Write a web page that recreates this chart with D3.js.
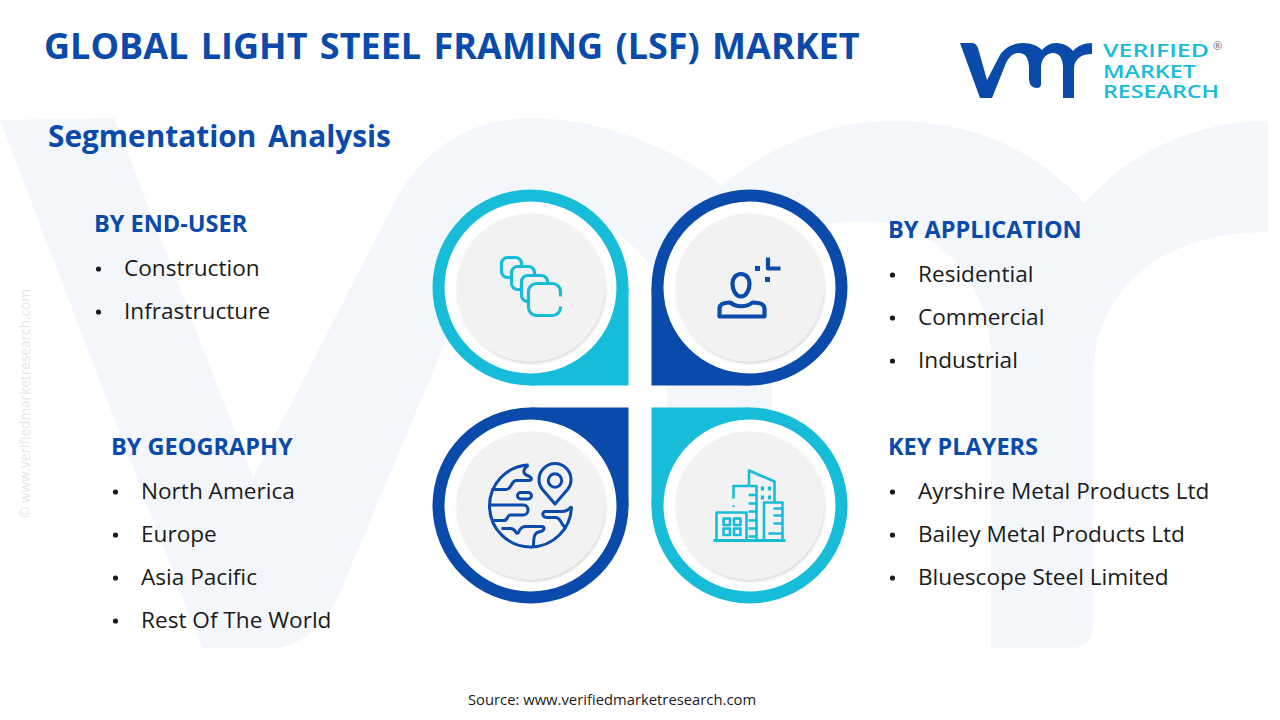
<!DOCTYPE html>
<html lang="en">
<head>
<meta charset="utf-8">
<script src="https://d3js.org/d3.v7.min.js"></script>
<title>Global Light Steel Framing (LSF) Market</title>
<style>
  html, body { margin: 0; padding: 0; background: #fff; }
  svg { display: block; }
  text { font-family: "Open Sans", "Noto Sans", sans-serif; }
</style>
</head>
<body>
<script>
var titleText = "GLOBAL LIGHT STEEL FRAMING (LSF) MARKET";
var subtitleText = "Segmentation Analysis";
var sourceText = "Source: www.verifiedmarketresearch.com";
var sideText = "© www.verifiedmarketresearch.com";
var logoWords = ["VERIFIED", "MARKET", "RESEARCH"];
var logoWidths = [106, 93, 116];

var endUser = ["Construction", "Infrastructure"];
var application = ["Residential", "Commercial", "Industrial"];
var geography = ["North America", "Europe", "Asia Pacific", "Rest Of The World"];
var keyPlayers = ["Ayrshire Metal Products Ltd", "Bailey Metal Products Ltd", "Bluescope Steel Limited"];

var navy = "#0a4aaa", cyan = "#17bcd8", ink = "#1a1a1a", paper = "#f2f2f3";

var svg = d3.select("body").append("svg").attr("width", 1280).attr("height", 720);
svg.append("rect").attr("width", 1280).attr("height", 720).attr("fill", "#fff");

// big faint vmr watermark behind everything
svg.append("path").attr("fill", "#f3f6fb").attr("d",
  "M0,120 L114,118 L253,478 L392,207 C420,150 470,118 530,118 C600,118 680,150 722,186 " +
  "C770,145 830,121 893,121 C980,121 1040,155 1085,203 C1130,150 1200,121 1268,121 L1268,232 " +
  "C1170,232 1100,280 1093,368 L1093,625 Q1093,648 1070,648 L991,648 L991,350 " +
  "C985,270 930,221 860,221 C820,221 790,235 772,260 L772,490 Q772,525 720,525 Q667,525 667,490 L667,300 " +
  "C650,250 610,218 560,218 C520,220 480,265 445,343 L341,590 Q320,640 278,648 L202,648 Z");

// header
svg.append("text").attr("x", 44).attr("y", 59).attr("font-size", 36).attr("font-weight", 700)
  .attr("fill", navy).attr("word-spacing", 3).text(titleText);
svg.append("text").attr("x", 48).attr("y", 147).attr("font-size", 29.8).attr("font-weight", 700)
  .attr("fill", navy).attr("word-spacing", 4).text(subtitleText);

// logo mark
svg.append("path").attr("fill", navy).attr("d",
  "M960,43 L972,43 Q976,43 978,48 L987,80 L1000,55 C1005,47 1014,43 1023,43 C1032,43 1038,46 1042,50 " +
  "C1046,46 1050,43 1056,43 C1064,43 1070,47 1073,51 C1077,46 1084,43 1092,43 L1092,54 " +
  "C1082,54 1075,58 1074,68 L1074,98 L1063,98 L1063,68 C1063,58 1059,53 1053,53 C1047,53 1042,58 1041,66 " +
  "L1041,84 Q1041,88 1037,88 Q1030,88 1029,80 L1029,68 C1029,58 1025,53 1019,53 C1013,53 1009,57 1006,63 " +
  "L992,98 L980,98 Z");

var logoText = svg.append("g").attr("fill", cyan).attr("font-weight", 600).attr("font-size", 18);
logoWords.forEach(function (w, i) {
  logoText.append("text").attr("x", 1103).attr("y", [57, 78, 98][i])
    .attr("textLength", logoWidths[i]).attr("lengthAdjust", "spacingAndGlyphs").text(w);
});
svg.append("text").attr("x", 1213).attr("y", 50).attr("font-size", 11).attr("fill", "#666").text("®");

// side url
svg.append("text").attr("transform", "translate(30,518) rotate(-90)").attr("font-size", 13.6)
  .attr("fill", "#e6e6e6").text(sideText);

// four teardrops, corner points to the middle of the picture
var drops = [
  { cx: 530.5, cy: 287.5, color: cyan, corner: [1, 1] },
  { cx: 749.5, cy: 287.5, color: navy, corner: [-1, 1] },
  { cx: 530.5, cy: 505.5, color: navy, corner: [1, -1] },
  { cx: 749.5, cy: 505.5, color: cyan, corner: [-1, -1] }
];
var defs = svg.append("defs");
var f = defs.append("filter").attr("id", "soft").attr("x", "-20%").attr("y", "-20%").attr("width", "140%").attr("height", "140%");
f.append("feDropShadow").attr("dx", 1).attr("dy", 2).attr("stdDeviation", 1.5).attr("flood-color", "#000").attr("flood-opacity", 0.16);

var dropG = svg.selectAll("g.drop").data(drops).enter().append("g").attr("class", "drop")
  .attr("transform", function (d) { return "translate(" + d.cx + "," + d.cy + ")"; });
dropG.append("circle").attr("r", 98).attr("fill", function (d) { return d.color; });
dropG.append("rect")
  .attr("x", function (d) { return d.corner[0] > 0 ? 0 : -98; })
  .attr("y", function (d) { return d.corner[1] > 0 ? 0 : -98; })
  .attr("width", 98).attr("height", 98)
  .attr("fill", function (d) { return d.color; });
dropG.append("circle").attr("r", 86).attr("fill", "#fff");
dropG.append("circle").attr("r", 74).attr("fill", paper).attr("filter", "url(#soft)");

// icons, drawn relative to each circle centre
function iconGroup(i, color) {
  return svg.append("g")
    .attr("transform", "translate(" + drops[i].cx + "," + drops[i].cy + ")")
    .attr("fill", "none").attr("stroke", color).attr("stroke-width", 3).attr("stroke-linejoin", "round");
}

// stacked squares
var ic0 = iconGroup(0, cyan);
ic0.attr("stroke-width", 3.2);
[[-29, -30, 20], [-19, -21, 23], [-9, -12, 26]].forEach(function (p) {
  ic0.append("rect").attr("x", p[0]).attr("y", p[1]).attr("width", p[2]).attr("height", p[2])
    .attr("rx", 6).attr("fill", paper);
});
ic0.append("rect").attr("x", -2).attr("y", -4).attr("width", 32).attr("height", 32).attr("rx", 8).attr("fill", paper);
ic0.append("rect").attr("x", 26).attr("y", 9).attr("width", 8).attr("height", 10).attr("fill", paper).attr("stroke", "none");

// person with marks
var ic1 = iconGroup(1, navy);
ic1.attr("stroke-width", 4.2);
ic1.append("path").attr("d", "M-8.5,-13.5 C-3,-13.5 0,-9 0,-4 C0,2 -3,9 -8.5,9 C-14,9 -17,2 -17,-4 C-17,-9 -14,-13.5 -8.5,-13.5 Z");
ic1.append("path").attr("d", "M-30,29 V21 C-30,16 -24,15 -19,15 C-14,20 -3,20 3,15 C9,15 15,16 15,21 V29 Z");
ic1.append("path").attr("d", "M18.5,-30 V-19 H31");
ic1.selectAll(null).data([[8, -19], [18, -8]]).enter().append("rect")
  .attr("x", function (d) { return d[0] - 2.5; }).attr("y", function (d) { return d[1] - 2.5; })
  .attr("width", 5).attr("height", 5).attr("fill", navy).attr("stroke", "none");

// globe with pin
var ic2 = iconGroup(2, navy);
ic2.attr("stroke-width", 3);
ic2.append("path").attr("d", "M-2,-40.5 A41,41 0 1 0 41,1");
ic2.append("path").attr("d", "M-2,-40.5 C-8,-36 -8,-32 -3,-30 C2,-28 2,-25 -2,-25 H-14 C-20,-25 -18,-16 -25,-16 H-39");
ic2.append("rect").attr("x", -13).attr("y", -13).attr("width", 14).attr("height", 6.5).attr("rx", 3.2);
ic2.append("path").attr("d", "M-40.5,-0.5 H-7 C-1,-0.5 -1,9.5 -7,9.5 H-20 C-24,9.5 -22,15 -27,15 H-37");
ic2.append("path").attr("d", "M-29,23 H-20 C-14,23 -15,30 -12,27 C-10,22 -8,21 -4,21 H11 C15,21 14,25 10,26 C4,27 3,30 3,41");
ic2.append("path").attr("d", "M41,1 C38,4 36,6 31,6 H14 C11,8 12,12 17,12 H25 C31,12 30,20 36,23");
ic2.append("path").attr("d", "M24.5,-1.5 L12,-16 A16,16 0 1 1 37,-16 Z");
ic2.append("circle").attr("cx", 24.5).attr("cy", -25).attr("r", 6.7);

// city block
var ic3 = iconGroup(3, cyan);
ic3.attr("stroke-width", 2.6);
ic3.append("path").attr("d", "M-36,35 H36").attr("stroke-width", 3.2);
ic3.append("path").attr("d", "M-33,35 V7 H-3 V35");
ic3.append("path").attr("d", "M-16,-7 V-19.5 H7 V35 M-16,0 V1.5");
ic3.append("path").attr("d", "M-0.5,-19.5 V-35 L25,-24 V-3.5");
ic3.append("path").attr("d", "M14.5,35 V-3 H33 V35 M14.5,-3 H25");
[[-26, 13], [-15.5, 13], [-26, 23], [-15.5, 23]].forEach(function (p) {
  ic3.append("rect").attr("x", p[0]).attr("y", p[1]).attr("width", 6.5).attr("height", 6.5);
});
ic3.append("path").attr("d", "M-1,-10.5 H7 M-1,-2 H7 M-1,6 H7 M-1,15 H7 M-1,23 H7 M-1,31 H7 M24,3 H33 M24,10 H33 M24,18 H33 M19,28 H33");
ic3.append("path").attr("d", "M13,-19 v4 M20,-19 v4 M13,-10 v4 M20,-10 v4").attr("stroke-width", 3.2);

// the four text blocks
var blocks = [
  { head: "BY END-USER", items: endUser, x: 94, y: 232, textX: 124, itemY: 276 },
  { head: "BY APPLICATION", items: application, x: 888, y: 238, textX: 918, itemY: 282 },
  { head: "BY GEOGRAPHY", items: geography, x: 111, y: 455, textX: 141, itemY: 499 },
  { head: "KEY PLAYERS", items: keyPlayers, x: 888, y: 455, textX: 918, itemY: 499 }
];
blocks.forEach(function (b) {
  svg.append("text").attr("x", b.x).attr("y", b.y).attr("font-size", 23.5).attr("font-weight", 700)
    .attr("fill", navy).text(b.head);
  var rows = svg.selectAll(null).data(b.items).enter().append("g")
    .attr("transform", function (d, i) { return "translate(0," + (b.itemY + i * 43) + ")"; });
  rows.append("circle").attr("cx", b.x + 4.5).attr("cy", -7).attr("r", 2.6).attr("fill", ink);
  rows.append("text").attr("x", b.textX).attr("font-size", 22.6).attr("fill", ink).text(function (d) { return d; });
});

svg.append("text").attr("x", 612).attr("y", 705).attr("text-anchor", "middle").attr("font-size", 14.8)
  .attr("fill", ink).text(sourceText);
</script>
</body>
</html>
